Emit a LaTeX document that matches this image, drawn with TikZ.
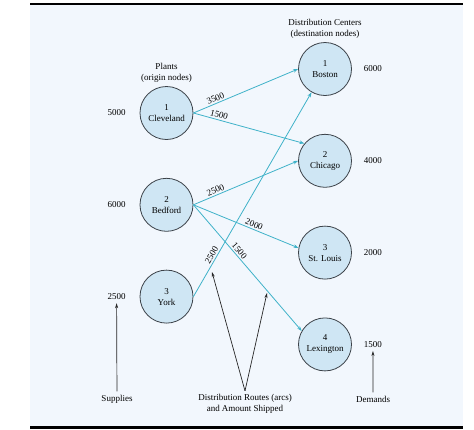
\documentclass[tikz,border=0pt]{standalone}
\usepackage{fontspec}
\setmainfont{Liberation Serif}
\usetikzlibrary{arrows.meta,positioning}

\definecolor{panelbg}{HTML}{F2F7FD}
\definecolor{nodefill}{HTML}{CFE6F4}
\definecolor{ringcol}{HTML}{3C4249}
\definecolor{routecol}{HTML}{3FB2C9}

\begin{document}
\begin{tikzpicture}[
    x=1pt, y=1pt,
    node distance=38pt,
    every node/.style={font=\fontsize{9}{11}\selectfont, align=center},
    place/.style={draw=ringcol, fill=nodefill, circle, minimum size=53pt, inner sep=0pt, line width=0.8pt},
    route/.style={-{Stealth[length=5pt,width=3.5pt]}, routecol, line width=0.8pt},
    pointer/.style={-{Stealth[length=5pt,width=3pt]}, black!85, line width=0.7pt},
    amount/.style={sloped, above, inner sep=1.5pt, text=black}
]

% Panel
\useasboundingbox (0,0) rectangle (474,-429);
\fill[panelbg] (30,-5) rectangle (463,-426);
\draw[line width=2pt] (30,-4) -- (463,-4);
\draw[line width=3pt] (30,-427.5) -- (463,-427.5);

% Plants
\node[place] (P1) at (166.5,-113) {1\\Cleveland};
\node[place] (P2) [below=of P1] {2\\Bedford};
\node[place] (P3) [below=of P2] {3\\York};
\node (plants) [above=0pt of P1] {Plants\\(origin nodes)};

% Distribution centers
\node[place] (D1) at (325,-69) {1\\Boston};
\node[place] (D2) [below=of D1] {2\\Chicago};
\node[place] (D3) [below=of D2] {3\\St. Louis};
\node[place] (D4) [below=of D3] {4\\Lexington};
\node (centers) [above=0pt of D1] {Distribution Centers\\(destination nodes)};

% Supplies and demands
\node (Sup1) [left=10.5pt of P1] {5000};
\node (Sup2) [left=10.5pt of P2] {6000};
\node (Sup3) [left=10.5pt of P3] {2500};
\node (Dem1) [right=8.5pt of D1] {6000};
\node (Dem2) [right=8.5pt of D2] {4000};
\node (Dem3) [right=8.5pt of D3] {2000};
\node (Dem4) [right=8.5pt of D4] {1500};

% Routes
\draw[route] (P1.east) -- node[amount, pos=0.23] {3500} (D1.west);
\draw[route] (P1.east) -- node[amount, pos=0.22] {1500} (D2.140);
\draw[route] (P2.east) -- node[amount, pos=0.23] {2500} (D2.west);
\draw[route] (P2.east) -- node[amount, pos=0.56] {2000} (D3.170);
\draw[route] (P2.east) -- node[amount, pos=0.39] {1500} (D4.150);
\draw[route] (P3.east) -- node[amount, pos=0.19] {2500} (D1);

% Captions
\node (supplies) at (117,-399) {Supplies};
\node (routes) at (245,-404) {Distribution Routes (arcs)\\and Amount Shipped};
\node (demands) at (373,-399) {Demands};
\coordinate (tipA) at (212,-272);
\coordinate (tipB) at (267,-293);

\draw[pointer] (supplies) -- (Sup3);
\draw[pointer] (demands) -- (Dem4);
\draw[pointer] (routes.north) -- (tipA);
\draw[pointer] (routes.north) -- (tipB);

\end{tikzpicture}
\end{document}
